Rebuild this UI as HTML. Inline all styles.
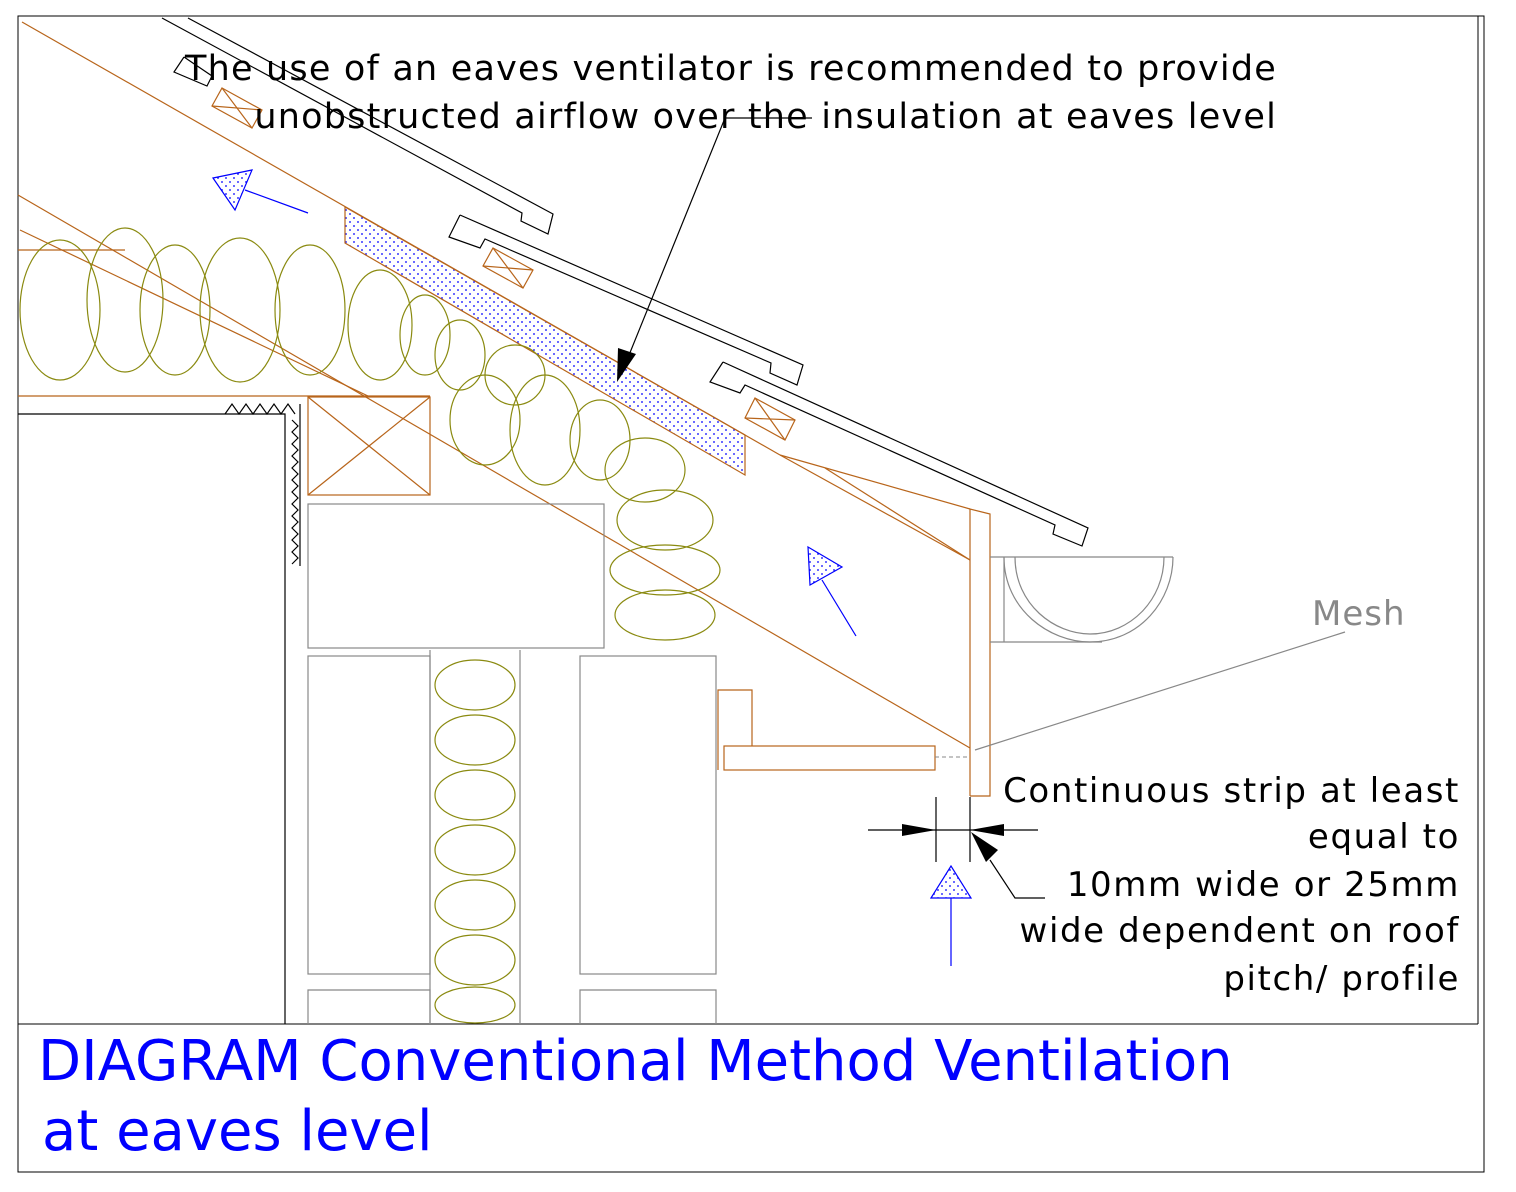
<!DOCTYPE html>
<html><head><meta charset="utf-8"><style>
html,body{margin:0;padding:0;background:#fff}
svg{display:block}
text{font-family:"DejaVu Sans","Liberation Sans",sans-serif}
</style></head><body>
<svg width="1516" height="1192" viewBox="0 0 1516 1192" xmlns="http://www.w3.org/2000/svg">
<defs>
<pattern id="dots" width="8" height="8" patternUnits="userSpaceOnUse">
<rect width="8" height="8" fill="#fff"/><circle cx="2" cy="2" r="0.9" fill="#00f"/><circle cx="6" cy="6" r="0.9" fill="#00f"/>
</pattern>
</defs>
<rect x="18" y="16" width="1466" height="1156" fill="none" stroke="#000" stroke-width="1"/>
<line x1="1478" y1="16" x2="1478" y2="1024" stroke="#000"/>
<line x1="18" y1="1024" x2="1478" y2="1024" stroke="#000"/>

<g fill="none" stroke="#000" stroke-width="1.2">
<polyline points="188,18 553,214 548,234 521,221 522,213 162,18"/>
<polyline points="184,57 174,72 207,86 212,76 184,57"/>
<polyline points="460,215 449,237 480,248 485,239 771,363 770,373 797,385 803,365 460,215"/>
<polyline points="723,362 710,382 740,393 745,385 1055,525 1053,534 1082,546 1088,528 723,362"/>
</g>

<g fill="none" stroke="#b8651b" stroke-width="1.2">
<polygon points="222,88 262,110 252,128 212,106"/><line x1="222" y1="88" x2="252" y2="128"/><line x1="212" y1="106" x2="262" y2="110"/>
<polygon points="493,248 533,270 523,288 483,266"/><line x1="493" y1="248" x2="523" y2="288"/><line x1="483" y1="266" x2="533" y2="270"/>
<polygon points="755,398 795,420 785,440 745,418"/><line x1="755" y1="398" x2="785" y2="440"/><line x1="745" y1="418" x2="795" y2="420"/>
</g>

<polygon points="345,207 745,435 745,475 345,243" fill="url(#dots)" stroke="#b8651b" stroke-width="1.2"/>

<g fill="none" stroke="#b8651b" stroke-width="1.2">
<line x1="22" y1="22" x2="780" y2="455"/>
<line x1="780" y1="455" x2="970" y2="509"/>
<line x1="825" y1="468" x2="970" y2="560"/>
<line x1="780" y1="455" x2="970" y2="560"/>
<line x1="18" y1="195" x2="970" y2="748"/>
<line x1="20" y1="230" x2="368" y2="396"/>
<line x1="18" y1="250" x2="125" y2="250"/>
<line x1="18" y1="396" x2="430" y2="396"/>
<rect x="308" y="397" width="122" height="98"/>
<line x1="308" y1="397" x2="430" y2="495"/><line x1="430" y1="397" x2="308" y2="495"/>
<polyline points="970,796 970,509 990,514 990,796 970,796"/>
<rect x="724" y="746" width="211" height="24"/>
<polyline points="718,770 718,690 752,690 752,746"/>
</g>
<line x1="935" y1="757" x2="970" y2="757" stroke="#888" stroke-dasharray="4,3"/>
<line x1="975" y1="750" x2="1345" y2="632" stroke="#888" stroke-width="1.2"/>

<g fill="none" stroke="#888" stroke-width="1.2">
<polyline points="990,557 1173,557"/>
<line x1="990" y1="642" x2="1102" y2="642"/>
<line x1="1004" y1="557" x2="1004" y2="642"/>
<path d="M1004,557 C1004,610 1050,642 1090,642 C1140,642 1173,600 1173,557"/>
<path d="M1015,557 C1015,605 1055,634 1090,634 C1130,634 1164,600 1164,557"/>
</g>

<g fill="none" stroke="#888" stroke-width="1.2">
<rect x="308" y="504" width="296" height="144"/>
<rect x="308" y="656" width="122" height="318"/>
<rect x="580" y="656" width="136" height="318"/>
<polyline points="308,1024 308,990 430,990 430,1024"/>
<polyline points="580,1024 580,990 716,990 716,1024"/>
<line x1="430" y1="650" x2="430" y2="1024"/>
<line x1="520" y1="650" x2="520" y2="1024"/>
</g>
<g fill="none" stroke="#000" stroke-width="1.2">
<polyline points="18,414 285,414 285,1024"/>
<line x1="300" y1="404" x2="300" y2="566"/>
<polyline points="225,414 232,404 239,414 246,404 253,414 260,404 267,414 274,404 281,414 288,404 295,414"/>
<polyline points="292,420 298,426 292,432 298,438 292,444 298,450 292,456 298,462 292,468 298,474 292,480 298,486 292,492 298,498 292,504 298,510 292,516 298,522 292,528 298,534 292,540 298,546 292,552 298,558 292,564"/>
</g>

<g fill="none" stroke="#8a8a10" stroke-width="1.2">
<ellipse cx="60" cy="310" rx="40" ry="70"/>
<ellipse cx="125" cy="300" rx="38" ry="72"/>
<ellipse cx="175" cy="310" rx="35" ry="65"/>
<ellipse cx="240" cy="310" rx="40" ry="72"/>
<ellipse cx="310" cy="310" rx="35" ry="65"/>
<ellipse cx="380" cy="325" rx="32" ry="55"/>
<ellipse cx="425" cy="335" rx="25" ry="40"/>
<ellipse cx="460" cy="355" rx="25" ry="35"/>
<ellipse cx="485" cy="420" rx="35" ry="45"/>
<ellipse cx="515" cy="375" rx="30" ry="30"/>
<ellipse cx="545" cy="430" rx="35" ry="55"/>
<ellipse cx="600" cy="440" rx="30" ry="40"/>
<ellipse cx="645" cy="470" rx="40" ry="32"/>
<ellipse cx="665" cy="520" rx="48" ry="30"/>
<ellipse cx="665" cy="570" rx="55" ry="25"/>
<ellipse cx="665" cy="615" rx="50" ry="25"/>
<ellipse cx="475" cy="685" rx="40" ry="25"/>
<ellipse cx="475" cy="740" rx="40" ry="25"/>
<ellipse cx="475" cy="795" rx="40" ry="25"/>
<ellipse cx="475" cy="850" rx="40" ry="25"/>
<ellipse cx="475" cy="905" rx="40" ry="25"/>
<ellipse cx="475" cy="960" rx="40" ry="25"/>
<ellipse cx="475" cy="1005" rx="40" ry="18"/>
</g>

<g stroke="#0000ff" stroke-width="1.2">
<polygon points="213,178 252,170 235,210" fill="url(#dots)"/>
<line x1="245" y1="190" x2="308" y2="213"/>
<polygon points="808,547 842,567 810,585" fill="url(#dots)"/>
<line x1="822" y1="580" x2="856" y2="636"/>
<polygon points="931,898 951,866 971,898" fill="url(#dots)"/>
<line x1="951" y1="898" x2="951" y2="966"/>
</g>

<g stroke="#000" stroke-width="1.2" fill="none">
<line x1="725" y1="118" x2="812" y2="118"/>
<line x1="725" y1="118" x2="625" y2="365"/>
<line x1="868" y1="830" x2="1038" y2="830"/>
<line x1="936" y1="797" x2="936" y2="862"/>
<line x1="970" y1="797" x2="970" y2="862"/>
<polyline points="990,860 1015,898 1045,898"/>
</g>
<g fill="#000">
<polygon points="617,382 618,348 636,354"/>
<polygon points="936,830 902,824 902,836"/>
<polygon points="970,830 1004,824 1004,836"/>
<polygon points="971,832 998,850 986,862"/>
</g>

<g font-size="35" fill="#000" text-anchor="end" letter-spacing="1.2">
<text x="1277" y="80">The use of an eaves ventilator is recommended to provide</text>
<text x="1277" y="128">unobstructed airflow over the insulation at eaves level</text>
</g>
<g font-size="34" fill="#000" text-anchor="end" letter-spacing="1.6">
<text x="1460" y="802">Continuous strip at least</text>
<text x="1460" y="848">equal to</text>
<text x="1460" y="896">10mm wide or 25mm</text>
<text x="1460" y="942">wide dependent on roof</text>
<text x="1460" y="990">pitch/ profile</text>
</g>
<text x="1312" y="625" font-size="34" fill="#888" letter-spacing="1">Mesh</text>
<text x="38" y="1080" font-size="56" fill="#0000ff">DIAGRAM Conventional Method Ventilation</text>
<text x="42" y="1150" font-size="56" fill="#0000ff">at eaves level</text>
</svg>
</body></html>
